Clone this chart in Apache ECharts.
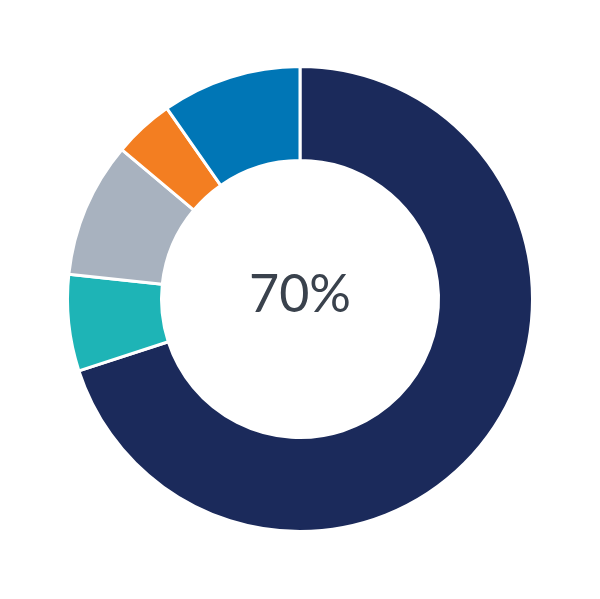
<!DOCTYPE html>
<html>
<head>
<meta charset="utf-8">
<script src="https://cdn.jsdelivr.net/npm/echarts@6/dist/echarts.min.js"></script>
<style>
html,body{margin:0;padding:0;background:#fff;}
#chart{width:600px;height:599px;}
</style>
</head>
<body>
<div id="chart"></div>
<script>
const categories = ['A', 'B', 'C', 'D', 'E'];
const values = [70, 6.7, 9.4, 4.2, 9.7];
const colors = ['#1b2a5b', '#1eb4b6', '#a8b2bf', '#f37e21', '#0076b6'];
const centerLabel = '70%';

const chart = echarts.init(document.getElementById('chart'), null, {renderer: 'canvas'});
chart.setOption({
  backgroundColor: '#ffffff',
  animation: false,
  graphic: [{
    type: 'text',
    left: 'center',
    top: 269,
    style: {
      text: centerLabel,
      fontFamily: 'Lato',
      fontWeight: 'normal',
      fontSize: 52,
      fill: '#3a424d'
    }
  }],
  series: [{
    type: 'pie',
    center: [300, 299],
    radius: [138.5, 232.5],
    startAngle: 90,
    clockwise: true,
    label: {show: false},
    labelLine: {show: false},
    emphasis: {disabled: true},
    itemStyle: {borderColor: '#ffffff', borderWidth: 3},
    data: categories.map((c, i) => ({name: c, value: values[i], itemStyle: {color: colors[i]}}))
  }]
});
</script>
</body>
</html>
